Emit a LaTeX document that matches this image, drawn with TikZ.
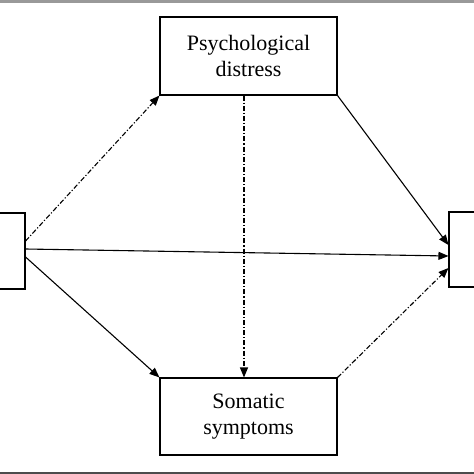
\documentclass[tikz,border=0pt]{standalone}
\usepackage{fontspec}
\setmainfont{Liberation Serif}
\usetikzlibrary{arrows.meta}

\begin{document}
\begin{tikzpicture}
            [x=1pt, y=-1pt,
            line width=1.1pt,
            box/.style = {draw, rectangle, align=center,
                        minimum width = 177pt, minimum height = 78pt,
                        font=\fontsize{22}{26}\selectfont},
            dashdot/.style = {dash pattern=on 5pt off 2pt on 1.2pt off 2pt},
            arr/.style = {-{Triangle[length=10pt,width=8pt]}}]
            \useasboundingbox (0,0) rectangle (474,474);
            % Bandas grises
            \fill[gray!80] (0,0) rectangle (474,2.5);
            \fill[black!70] (0,471.5) rectangle (474,474);
            % Cajas
            \node[box] (P) at (248.5,56) {Psychological\\distress};
            \node[box, minimum height = 77pt] (S) at (248.5,416.5) {Somatic\\symptoms};
            \node[draw, minimum width = 45pt, minimum height = 76pt] (L) at (2.5,251) {};
            \node[draw, minimum width = 45pt, minimum height = 75pt] (R) at (471.5,249.5) {};
            % Flechas
            \draw[arr, dashdot] ([yshift=10pt]L.east) -- (P.south west);
            \draw[arr] ([yshift=2pt]L.east) -- ([yshift=-6.5pt]R.west);
            \draw[arr] ([yshift=-6pt]L.east) -- (S.north west);
            \draw[arr, dashdot] ([xshift=-4.5pt]P.south) -- ([xshift=-4.5pt]S.north);
            \draw[arr] (P.south east) -- ([yshift=4.5pt]R.west);
            \draw[arr, dashdot] (S.north east) -- ([yshift=-18.5pt]R.west);
        \end{tikzpicture}
\end{document}
